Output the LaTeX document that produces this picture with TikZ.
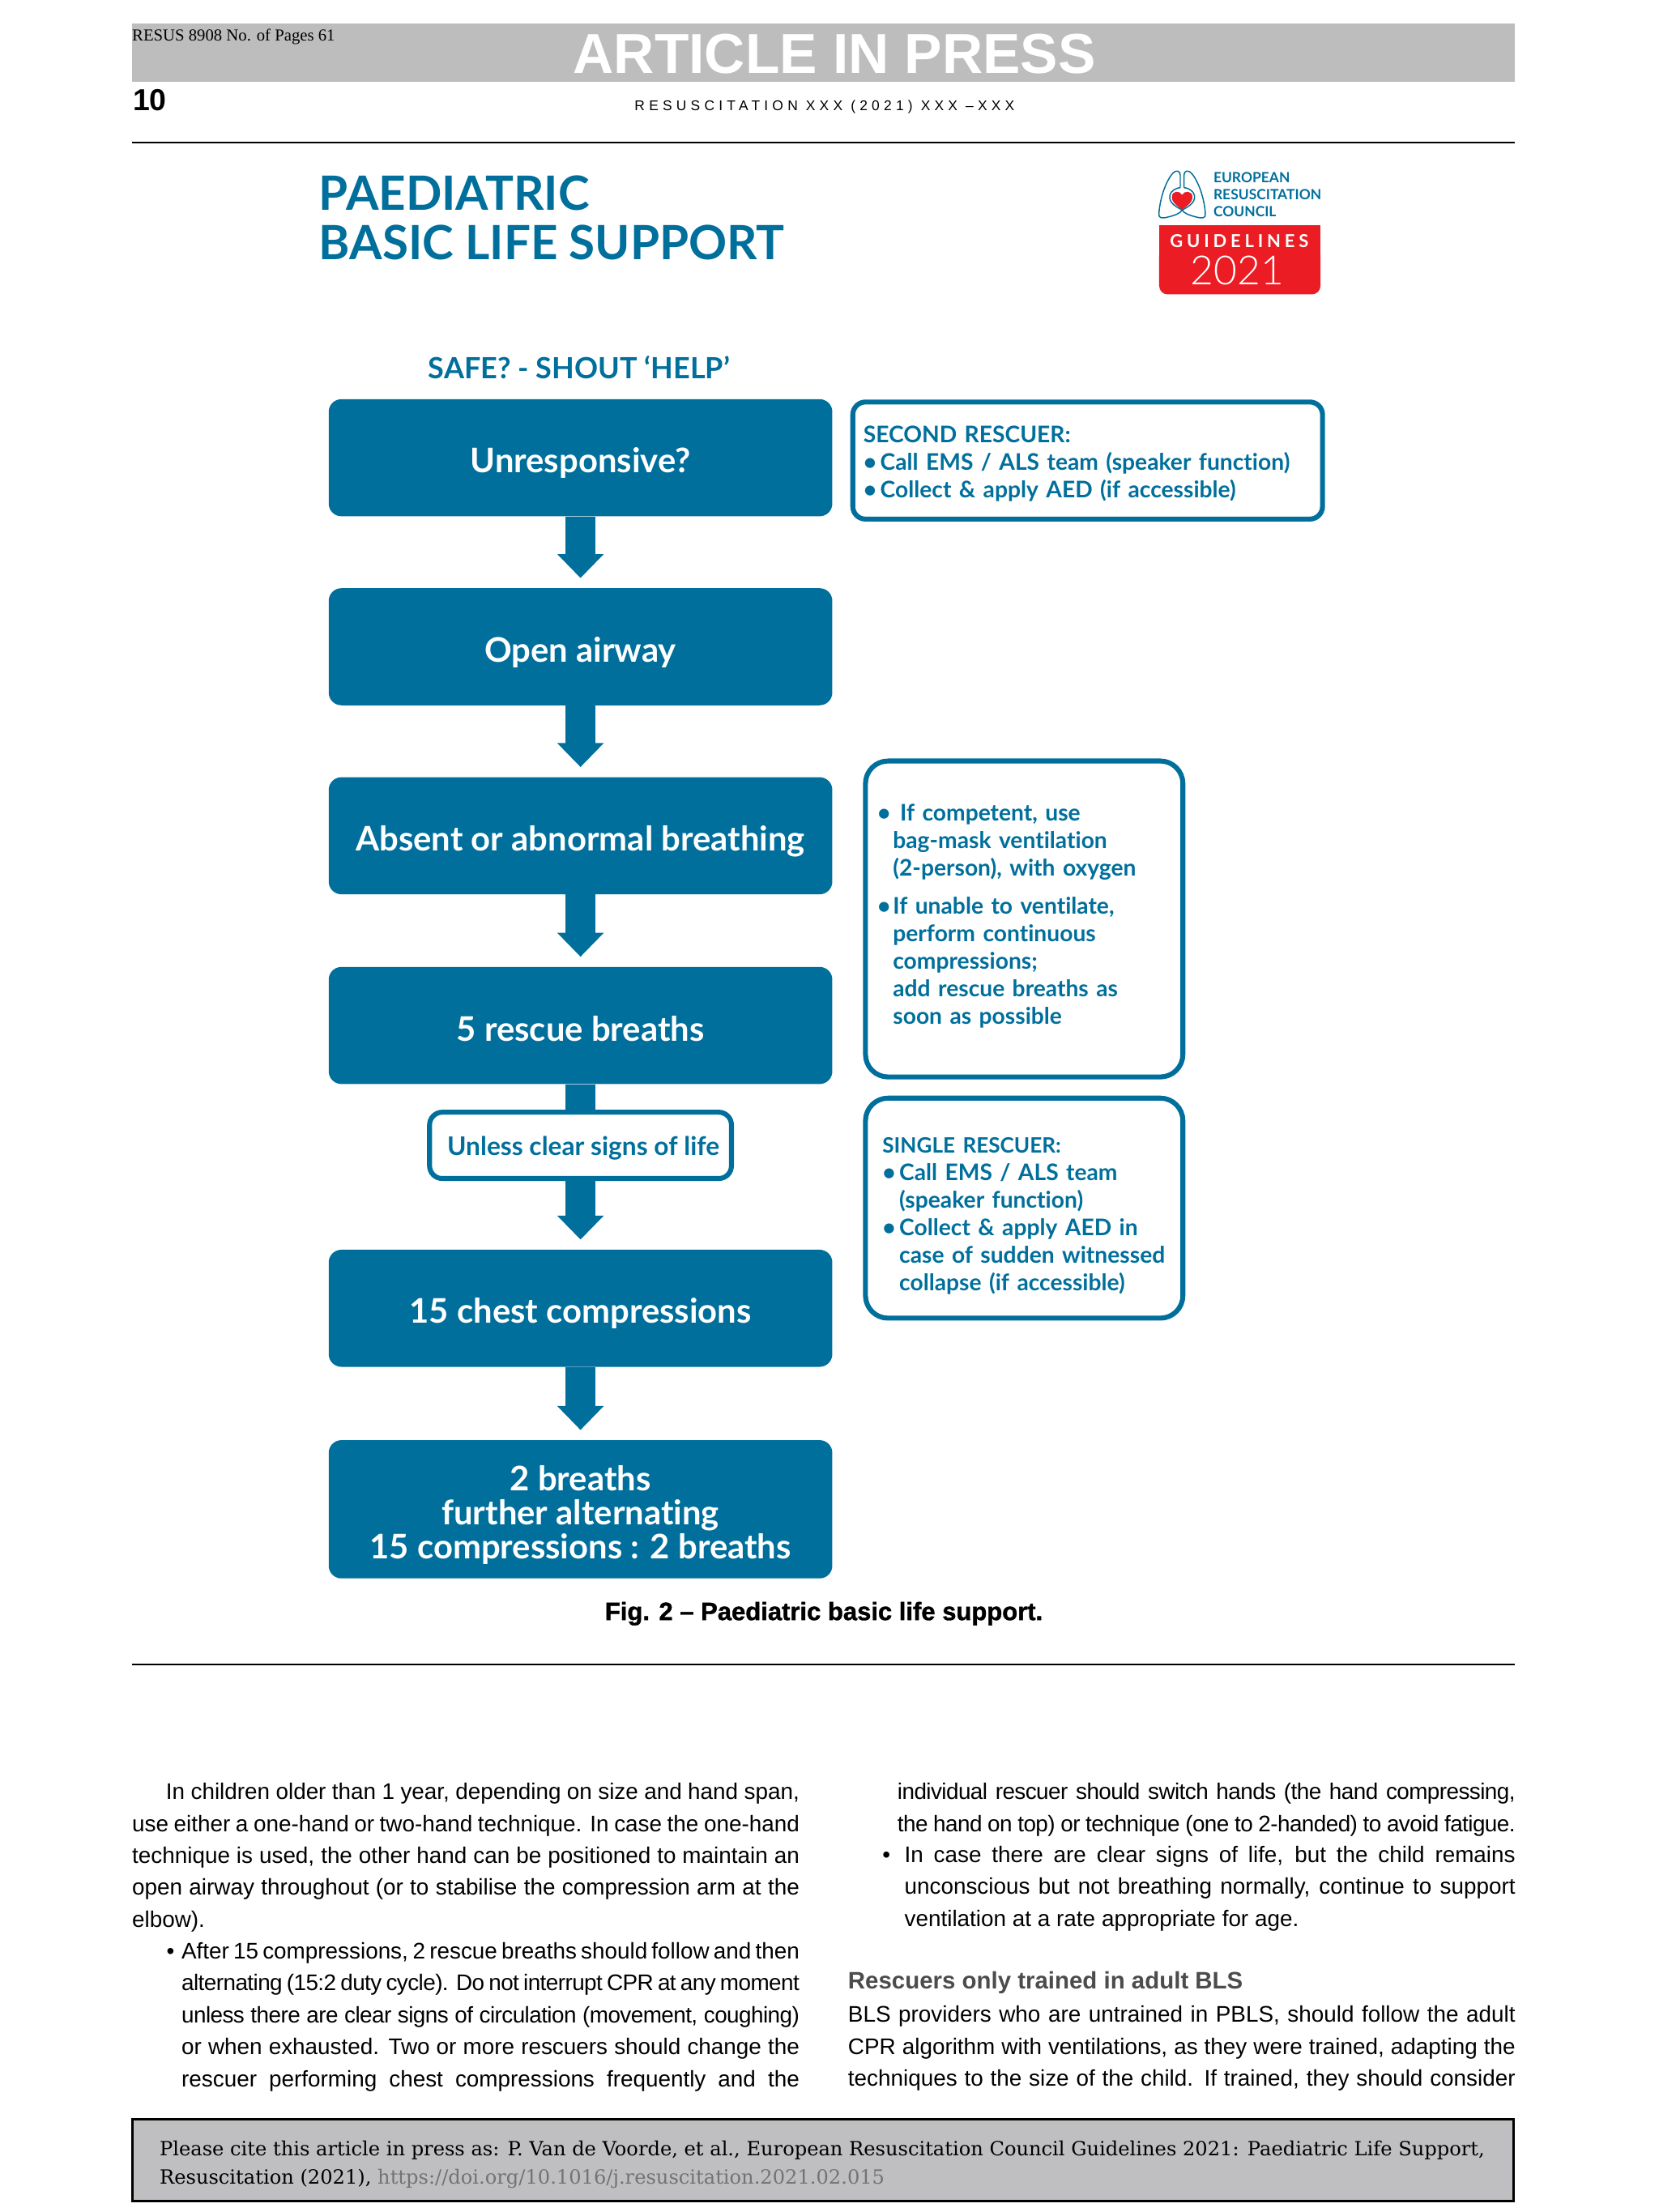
\documentclass[tikz,border=0pt]{standalone}
\usepackage{fontspec}
\usepackage{xcolor}
\usetikzlibrary{arrows.meta}
\setmainfont{Liberation Sans}
\newfontfamily\flowfont[Ligatures=CommonOff]{Lato}
\newfontfamily\wideflow[LetterSpace=22]{Lato}
\newfontfamily\yearfont[UprightFont=* Light]{Lato}
\newfontfamily\headserif{Liberation Serif}
\newfontfamily\widehead[LetterSpace=30]{Liberation Sans}
\newfontfamily\citefont{DejaVu Serif}
\newfontfamily\capfont[UprightFont=* Bold,FakeBold=1.3]{Liberation Sans}
\newfontfamily\tightbody[LetterSpace=-2]{Liberation Sans}
\definecolor{ercblue}{HTML}{006F9C}
\definecolor{ercred}{HTML}{EC1C24}
\definecolor{bandgray}{HTML}{BDBDBD}
\definecolor{footgray}{HTML}{BFBFC1}
\newcommand{\bodyfont}{\fontsize{16}{22.6}\selectfont\spaceskip=.28em plus .6em minus .22em\relax\tolerance=9999\hyphenpenalty=10000\exhyphenpenalty=10000\relax}
\newcommand{\blt}{\makebox[12pt][l]{\textbullet}}
\newcommand{\fullline}[1]{\makebox[\linewidth][s]{#1}}
\tikzset{
	flowbox/.style={fill=ercblue,rounded corners=9pt,minimum width=357pt,text=white,align=center,inner sep=0pt,font=\flowfont\bfseries\fontsize{24}{24}\selectfont},
	sidebox/.style={draw=ercblue,fill=white,line width=3.5pt,text=ercblue,align=left,inner sep=0pt,font=\flowfont\bfseries\fontsize{16.2}{19.5}\selectfont},
	flowline/.style={draw=ercblue,line width=21pt},
	flowarrow/.style={flowline,-{Triangle[length=17pt,width=32pt,fill=ercblue]},shorten >=7pt},
	bodytext/.style={anchor=north west,inner sep=0pt,align=justify,font=\bodyfont},
	rulepage/.style={draw=black,line width=1.2pt},
}
\begin{document}
\begin{tikzpicture}[x=1pt,y=-1pt]
	\useasboundingbox (0,0) rectangle (1176,1568.2);

	% running head
	\fill[bandgray] (93.5,16.5) rectangle (1074,58);
	\node[anchor=west,inner sep=0pt,font=\headserif\fontsize{11.9}{14}\selectfont] (resus) at (93.5,26) {RESUS 8908 No. of Pages 61};
	\node[inner sep=0pt,text=white,font=\bfseries\fontsize{39.9}{40}\selectfont] (press) at (591.5,38) {ARTICLE IN PRESS};
	\node[anchor=west,inner sep=0pt,font=\bfseries\fontsize{21.5}{22}\selectfont] (pageno) at (94,71) {10};
	\node[inner sep=0pt,font=\widehead\fontsize{10}{12}\selectfont] (journal) at (584.5,76) {RESUSCITATION XXX (2021) XXX –XXX};
	\draw[rulepage] (93.5,101) -- (1074,101);

	% title and logo
	\node[anchor=west,inner sep=0pt,text=ercblue,font=\flowfont\bfseries\fontsize{33.5}{35}\selectfont] (title1) at (226,137) {PAEDIATRIC};
	\node[anchor=west,inner sep=0pt,text=ercblue,font=\flowfont\bfseries\fontsize{33.5}{35}\selectfont] (title2) at (226,172) {BASIC LIFE SUPPORT};
	\begin{scope}[shift={(803.9,109.1)},scale=0.1914]
		\fill[ercred] (178,207) .. controls (160,192) and (140,182) .. (140,160) .. controls (140,135) and (170,135) .. (178,152) .. controls (186,135) and (216,135) .. (216,160) .. controls (216,182) and (196,192) .. (178,207) -- cycle;
		\draw[ercblue,line width=0.85pt,line join=round] (171,125) -- (171,78) .. controls (171,62) and (155,58) .. (143,72) .. controls (115,105) and (95,170) .. (92,222) .. controls (91,238) and (102,240) .. (125,234) .. controls (150,228) and (172,220) .. (178,208) .. controls (165,200) and (128,185) .. (132,155) .. controls (135,135) and (160,125) .. (171,125);
		\draw[ercblue,line width=0.85pt,line join=round] (185,125) -- (185,78) .. controls (185,62) and (201,58) .. (213,72) .. controls (241,105) and (261,170) .. (264,222) .. controls (265,238) and (254,240) .. (231,234) .. controls (206,228) and (184,220) .. (178,208) .. controls (191,200) and (228,185) .. (224,155) .. controls (221,135) and (196,125) .. (185,125);
	\end{scope}
	\node[anchor=west,inner sep=0pt,text=ercblue,font=\flowfont\bfseries\fontsize{10}{11}\selectfont] (erc1) at (860,126) {EUROPEAN};
	\node[anchor=west,inner sep=0pt,text=ercblue,font=\flowfont\bfseries\fontsize{10}{11}\selectfont] (erc2) at (860,138) {RESUSCITATION};
	\node[anchor=west,inner sep=0pt,text=ercblue,font=\flowfont\bfseries\fontsize{10}{11}\selectfont] (erc3) at (860,150) {COUNCIL};
	\fill[ercred,rounded corners=6pt] (821.7,175) -- (821.7,208.7) -- (936,208.7) -- (936,175) -- cycle;
	\fill[ercred] (821.7,159.7) rectangle (936,185);
	\node[inner sep=0pt,text=white,font=\wideflow\bfseries\fontsize{12.6}{14}\selectfont] (guide) at (878.5,171) {GUIDELINES};
	\node[inner sep=0pt,text=white,font=\yearfont\fontsize{28.5}{34}\selectfont] (year) at (877,192) {2021};

	% flow chart
	\node[inner sep=0pt,text=ercblue,font=\flowfont\bfseries\fontsize{20.7}{22}\selectfont] (safe) at (410.5,260.5) {SAFE? - SHOUT ‘HELP’};
	\node[flowbox,minimum height=83pt] (unresponsive) at (411.5,324.5) {\rule{0pt}{25.5pt}Unresponsive?};
	\node[flowbox,minimum height=83pt] (airway) at (411.5,458.5) {\rule{0pt}{25.5pt}Open airway};
	\node[flowbox,minimum height=83pt] (breathing) at (411.5,592.5) {\rule{0pt}{25.5pt}Absent or abnormal breathing};
	\node[flowbox,minimum height=83pt] (rescue) at (411.5,727) {\rule{0pt}{23pt}5 rescue breaths};
	\node[sidebox,rounded corners=9pt,minimum width=214pt,minimum height=47pt,align=center,font=\flowfont\bfseries\fontsize{18.2}{20}\selectfont] (signs) at (411.5,812) {\rule{0pt}{18pt}\hspace*{4pt}Unless clear signs of life};
	\node[flowbox,minimum height=83pt] (chest) at (411.5,927.5) {\rule{0pt}{25pt}15 chest compressions};
	\node[flowbox,minimum height=98pt] (alternate) at (411.5,1070) {\rule{0pt}{22pt}2 breaths\\further alternating\\\smash{15 compressions : 2 breaths}};

	\draw[flowarrow] (unresponsive.south) -- (airway.north);
	\draw[flowarrow] (airway.south) -- (breathing.north);
	\draw[flowarrow] (breathing.south) -- (rescue.north);
	\draw[flowline] (rescue.south) -- (signs.north);
	\draw[flowarrow] (signs.south) -- (chest.north);
	\draw[flowarrow] (chest.south) -- (alternate.north);
	\node[sidebox,rounded corners=9pt,minimum width=333pt,minimum height=83pt,text width=318pt] (second) at (771,326.5) {\rule{0pt}{16pt}SECOND RESCUER:\\\blt Call EMS / ALS team (speaker function)\\\blt Collect \& apply AED (if accessible)};
	\node[sidebox,rounded corners=16pt,minimum width=225pt,minimum height=224pt,text width=208pt] (competent) at (726,651.5) {\makebox[16pt][l]{\textbullet}If competent, use\\\hspace*{11pt}bag-mask ventilation\\\hspace*{11pt}(2-person), with oxygen\\[7.5pt]\makebox[11pt][l]{\textbullet}If unable to ventilate,\\\hspace*{11pt}perform continuous\\\hspace*{11pt}compressions;\\\hspace*{11pt}add rescue breaths as\\\hspace*{11pt}soon as possible\rule[-7pt]{0pt}{7pt}};
	\node[sidebox,rounded corners=16pt,minimum width=225pt,minimum height=156pt,text width=201pt] (single) at (726,856.5) {\rule{0pt}{22pt}{\fontsize{15}{19.5}\selectfont SINGLE RESCUER:}\\\blt Call EMS / ALS team\\\hspace*{12pt}(speaker function)\\\blt Collect \& apply AED in\\\hspace*{12pt}\mbox{case of sudden witnessed}\\\hspace*{12pt}collapse (if accessible)};

	% caption
	\node[inner sep=0pt,font=\capfont\fontsize{17.8}{19}\selectfont] (caption) at (584,1144) {Fig. 2 – Paediatric basic life support.};
	\draw[draw=black,line width=1pt] (93.5,1180) -- (1074,1180);

	% two columns of text
	\node[bodytext,text width=473pt] (para1) at (93.5,1264) {\hspace*{24pt}In children older than 1 year, depending on size and hand span,\linebreak use either a one-hand or two-hand technique. In case the one-hand\linebreak technique is used, the other hand can be positioned to maintain an\linebreak open airway throughout (or to stabilise the compression arm at the\linebreak elbow).};
	\node[bodytext,text width=438pt] (para2) at (128.5,1377) {\llap{\textbullet\hspace{5pt}}After 15 compressions, 2 rescue breaths should follow and then\linebreak \fullline{\tightbody alternating (15:2 duty cycle). Do not interrupt CPR at any moment}\linebreak \fullline{\tightbody unless there are clear signs of circulation (movement, coughing)}\linebreak or when exhausted. Two or more rescuers should change the\linebreak \fullline{rescuer performing chest compressions frequently and the}};
	\node[bodytext,text width=438pt] (para3) at (636,1264) {\fullline{\tightbody individual rescuer should switch hands (the hand compressing,}\linebreak \fullline{\tightbody the hand on top) or technique (one to 2-handed) to avoid fatigue.}};
	\node[bodytext,text width=433pt] (para4) at (641,1308.5) {\llap{\textbullet\hspace{10pt}}In case there are clear signs of life, but the child remains\linebreak unconscious but not breathing normally, continue to support\linebreak ventilation at a rate appropriate for age.};
	\node[anchor=west,inner sep=0pt,text=black!70,font=\bfseries\fontsize{16.9}{18}\selectfont] (heading) at (601,1405.5) {Rescuers only trained in adult BLS};
	\node[bodytext,text width=473pt] (para5) at (601,1422) {BLS providers who are untrained in PBLS, should follow the adult\linebreak CPR algorithm with ventilations, as they were trained, adapting the\linebreak \fullline{techniques to the size of the child. If trained, they should consider}};

	% citation box
	\node[draw=black,fill=footgray,line width=1.6pt,outer sep=0pt,anchor=north west,minimum width=979pt,minimum height=58pt,inner sep=0pt] (citebox) at (94,1502.5) {};
	\node[anchor=north west,inner sep=0pt,align=left,font=\citefont\fontsize{13.87}{20}\selectfont] (citetext) at (113,1517.5) {Please cite this article in press as: P. Van de Voorde, et al., European Resuscitation Council Guidelines 2021: Paediatric Life Support,\\Resuscitation (2021), \textcolor{black!55}{https://doi.org/10.1016/j.resuscitation.2021.02.015}};
\end{tikzpicture}
\end{document}
